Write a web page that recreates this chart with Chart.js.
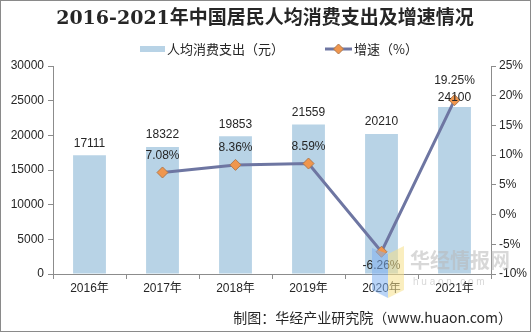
<!DOCTYPE html>
<html>
<head>
<meta charset="utf-8">
<script src="https://cdn.jsdelivr.net/npm/chart.js@4/dist/chart.umd.min.js"></script>
<style>
  html, body { margin: 0; padding: 0; background: #fff; }
  #wrap { width: 531px; height: 332px; position: relative; }
</style>
</head>
<body>
<div id="wrap"><canvas id="myChart" width="531" height="332"></canvas></div>
<script>
// data
var years = ['2016年', '2017年', '2018年', '2019年', '2020年', '2021年'];
var spending = [17111, 18322, 19853, 21559, 20210, 24100];
var growth = [null, 7.08, 8.36, 8.59, -6.26, 19.25];

var titleText = '2016-2021年中国居民人均消费支出及增速情况';
var spendLabel = '人均消费支出（元）';
var growthLabel = '增速（%）';
var sourceText = '制图：华经产业研究院（www.huaon.com）';

var sansFont = '"Liberation Sans", Arial, "Noto Sans CJK SC", sans-serif';
var cjkFont = '"Noto Sans CJK SC", sans-serif';
var axisColor = '#8c8c8c';

// title, legend, labels, footer and watermark
var decorPlugin = {
  id: 'decor',
  beforeDraw: function(chart) {
    var ctx = chart.ctx;
    ctx.save();
    ctx.fillStyle = '#fff';
    ctx.fillRect(0, 0, chart.width, chart.height);
    ctx.restore();
  },
  afterDatasetsDraw: function(chart) {
    var ctx = chart.ctx;
    ctx.save();

    // value labels on bars (dataset 1)
    var barMeta = chart.getDatasetMeta(1);
    ctx.font = '12px ' + sansFont;
    ctx.fillStyle = '#262626';
    ctx.textAlign = 'center';
    ctx.textBaseline = 'middle';
    barMeta.data.forEach(function(bar, i) {
      var dy = i === 5 ? -9 : -12;
      ctx.fillText(String(spending[i]), bar.x, bar.y + dy);
    });

    // value labels on the line (dataset 0)
    var lineMeta = chart.getDatasetMeta(0);
    lineMeta.data.forEach(function(pt, i) {
      if (growth[i] === null) return;
      var txt = growth[i].toFixed(2) + '%';
      var dy = growth[i] < 0 ? 14 : -17;
      if (i === 5) dy = -19;
      ctx.fillText(txt, pt.x, pt.y + dy);
    });

    // watermark
    ctx.globalAlpha = 0.55;
    ctx.fillStyle = '#7fb0f0';
    ctx.beginPath();
    ctx.moveTo(372, 248); ctx.lineTo(388, 254); ctx.lineTo(388, 298); ctx.lineTo(372, 290);
    ctx.closePath(); ctx.fill();
    ctx.fillStyle = '#f6e08a';
    ctx.beginPath();
    ctx.moveTo(388, 254); ctx.lineTo(404, 246); ctx.lineTo(404, 290); ctx.lineTo(388, 298);
    ctx.closePath(); ctx.fill();
    ctx.fillStyle = '#b8b8b8';
    ctx.font = 'bold 20px ' + cjkFont;
    ctx.textAlign = 'left';
    ctx.fillText('华经情报网', 410, 260);
    ctx.font = '10px ' + sansFont;
    ctx.fillText('h u a o n . c o m', 413, 282);
    ctx.globalAlpha = 1;

    // title
    ctx.fillStyle = '#262626';
    ctx.textAlign = 'center';
    ctx.font = 'bold 19px "DejaVu Serif", "Noto Sans CJK SC", serif';
    ctx.fillText(titleText, 265, 19);

    // legend
    ctx.font = '13px ' + cjkFont;
    ctx.textAlign = 'left';
    ctx.fillStyle = '#b8d3e6';
    ctx.fillRect(140, 46, 25, 6);
    ctx.fillStyle = '#262626';
    ctx.fillText(spendLabel, 167, 49);
    ctx.strokeStyle = '#6e76a2';
    ctx.lineWidth = 3;
    ctx.beginPath();
    ctx.moveTo(325, 49); ctx.lineTo(352, 49);
    ctx.stroke();
    ctx.fillStyle = '#f0964d';
    ctx.strokeStyle = '#b07a50';
    ctx.lineWidth = 1;
    ctx.beginPath();
    ctx.moveTo(338.5, 44); ctx.lineTo(343.5, 49); ctx.lineTo(338.5, 54); ctx.lineTo(333.5, 49);
    ctx.closePath(); ctx.fill(); ctx.stroke();
    ctx.fillStyle = '#262626';
    ctx.fillText(growthLabel, 354, 49);

    // footer
    ctx.font = '14px ' + cjkFont;
    ctx.textAlign = 'right';
    ctx.fillText(sourceText, 512, 318);

    // outer frame
    ctx.strokeStyle = '#8a8a8a';
    ctx.lineWidth = 1;
    ctx.strokeRect(0.5, 0.5, chart.width - 1, chart.height - 1);
    ctx.restore();
  }
};

var ctx = document.getElementById('myChart').getContext('2d');
var myChart = new Chart(ctx, {
  data: {
    labels: years,
    datasets: [
      {
        type: 'line',
        label: growthLabel,
        data: growth,
        yAxisID: 'y1',
        borderColor: '#6e76a2',
        borderWidth: 3,
        pointStyle: 'rectRot',
        pointRadius: 5.5,
        pointBackgroundColor: '#f0964d',
        pointBorderColor: '#b07a50',
        pointBorderWidth: 1,
        spanGaps: false,
        order: 0
      },
      {
        type: 'bar',
        label: spendLabel,
        data: spending,
        yAxisID: 'y',
        backgroundColor: '#b8d3e6',
        barPercentage: 0.45,
        categoryPercentage: 1,
        order: 1
      }
    ]
  },
  options: {
    responsive: false,
    animation: false,
    events: [],
    layout: { padding: { top: 66, left: 0, right: 0, bottom: 0 } },
    plugins: {
      legend: { display: false },
      title: { display: false },
      tooltip: { enabled: false }
    },
    scales: {
      x: {
        offset: true,
        afterFit: function(s) { s.height = 58; },
        grid: {
          offset: true,
          drawOnChartArea: false,
          drawTicks: true,
          tickLength: 5,
          color: axisColor
        },
        border: { color: axisColor },
        ticks: {
          color: '#262626',
          font: { size: 12, family: sansFont },
          padding: 2
        }
      },
      y: {
        position: 'left',
        min: 0,
        max: 30000,
        afterFit: function(s) { s.width = 53; },
        grid: {
          drawOnChartArea: false,
          drawTicks: true,
          tickLength: 5,
          color: axisColor
        },
        border: { color: axisColor },
        ticks: {
          stepSize: 5000,
          color: '#262626',
          font: { size: 12, family: sansFont },
          padding: 4,
          callback: function(v) { return String(v); }
        }
      },
      y1: {
        position: 'right',
        min: -10,
        max: 25,
        afterFit: function(s) { s.width = 40; },
        grid: {
          drawOnChartArea: false,
          drawTicks: true,
          tickLength: 5,
          color: axisColor
        },
        border: { color: axisColor },
        ticks: {
          stepSize: 5,
          color: '#262626',
          font: { size: 12, family: sansFont },
          padding: 3,
          callback: function(v) { return v + '%'; }
        }
      }
    }
  },
  plugins: [decorPlugin]
});
</script>
</body>
</html>
